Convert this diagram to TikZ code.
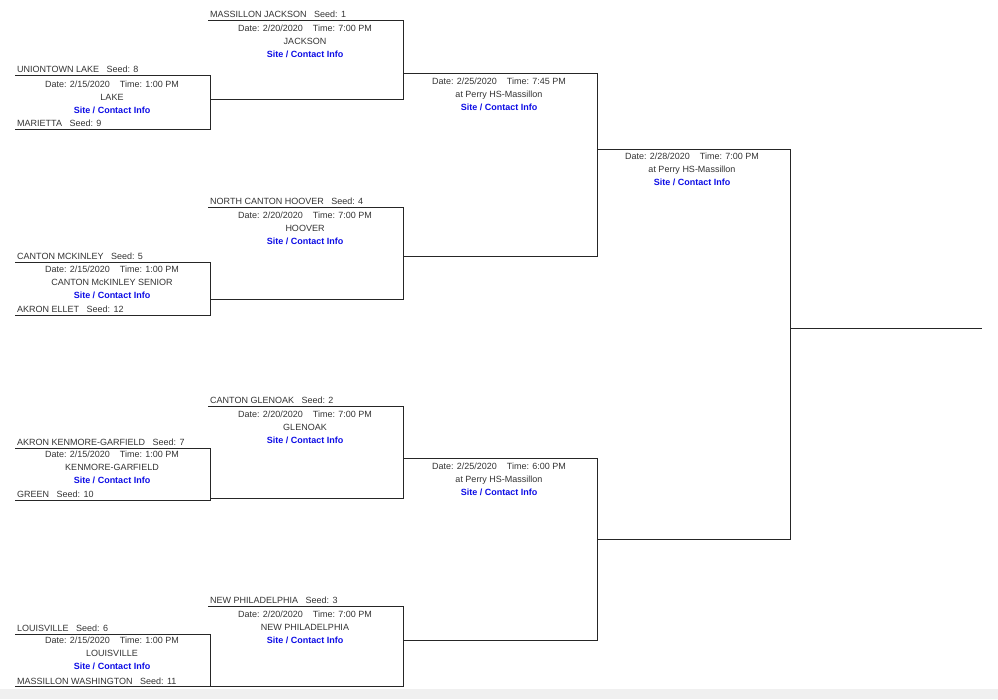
\documentclass[tikz,border=0pt]{standalone}
\usepackage{fontspec}
\setmainfont{Liberation Sans}
\definecolor{txtgray}{rgb}{0.2,0.2,0.2}
\definecolor{linkblue}{rgb}{0.05,0.05,0.9}
\definecolor{barg}{rgb}{0.94,0.94,0.94}
\tikzset{
  team/.style={anchor=base west,inner sep=0pt,text=txtgray,font=\fontsize{9}{10}\selectfont},
  info/.style={anchor=base,inner sep=0pt,text=txtgray,font=\fontsize{9}{10}\selectfont},
  site/.style={anchor=base,inner sep=0pt,text=linkblue,font=\fontsize{9}{10}\selectfont\bfseries},
  bline/.style={draw=black!85,line width=0.8pt}
}
\begin{document}
\begin{tikzpicture}[line cap=butt,line join=miter,x=1pt,y=-1pt]
\useasboundingbox (0,0) rectangle (998,699);
\fill[barg] (0,689) rectangle (998,699);
% round one
\draw[bline] (15,75)-- (210,75)-- (210,129)-- (15,129);
\draw[bline] (15,262)-- (210,262)-- (210,315)-- (15,315);
\draw[bline] (15,448)-- (210,448)-- (210,500)-- (15,500);
\draw[bline] (15,634)-- (210,634)-- (210,686)-- (15,686);
% round two
\draw[bline] (208,20)-- (403,20)-- (403,99)-- (210,99);
\draw[bline] (208,207)-- (403,207)-- (403,299)-- (210,299);
\draw[bline] (208,406)-- (403,406)-- (403,498)-- (210,498);
\draw[bline] (208,606)-- (403,606)-- (403,686)-- (210,686);
% semifinals
\draw[bline] (403,73)-- (597,73)-- (597,256)-- (403,256);
\draw[bline] (403,458)-- (597,458)-- (597,640)-- (403,640);
% final
\draw[bline] (597,149)-- (790,149)-- (790,539)-- (597,539);
\draw[bline] (790,328)-- (982,328);
% teams
\node[team] (t8) at (17,72) {UNIONTOWN LAKE\ \ \ Seed: 8};
\node[team] (t9) at (17,126) {MARIETTA\ \ \ Seed: 9};
\node[team] (t5) at (17,259) {CANTON MCKINLEY\ \ \ Seed: 5};
\node[team] (t12) at (17,312) {AKRON ELLET\ \ \ Seed: 12};
\node[team] (t7) at (17,445) {AKRON KENMORE-GARFIELD\ \ \ Seed: 7};
\node[team] (t10) at (17,497) {GREEN\ \ \ Seed: 10};
\node[team] (t6) at (17,631) {LOUISVILLE\ \ \ Seed: 6};
\node[team] (t11) at (17,684) {MASSILLON WASHINGTON\ \ \ Seed: 11};
\node[team] (t1) at (210,17) {MASSILLON JACKSON\ \ \ Seed: 1};
\node[team] (t4) at (210,204) {NORTH CANTON HOOVER\ \ \ Seed: 4};
\node[team] (t2) at (210,403) {CANTON GLENOAK\ \ \ Seed: 2};
\node[team] (t3) at (210,603) {NEW PHILADELPHIA\ \ \ Seed: 3};
% game info
\foreach \n/\x/\y/\d/\w in {
  ga/112/87/2\slash 15\slash 2020\ \ \ \ Time: 1:00 PM/LAKE,
  gb/112/272/2\slash 15\slash 2020\ \ \ \ Time: 1:00 PM/CANTON McKINLEY SENIOR,
  gc/112/457/2\slash 15\slash 2020\ \ \ \ Time: 1:00 PM/KENMORE-GARFIELD,
  gd/112/643/2\slash 15\slash 2020\ \ \ \ Time: 1:00 PM/LOUISVILLE,
  qa/305/31/2\slash 20\slash 2020\ \ \ \ Time: 7:00 PM/JACKSON,
  qb/305/218/2\slash 20\slash 2020\ \ \ \ Time: 7:00 PM/HOOVER,
  qc/305/417/2\slash 20\slash 2020\ \ \ \ Time: 7:00 PM/GLENOAK,
  qd/305/617/2\slash 20\slash 2020\ \ \ \ Time: 7:00 PM/NEW PHILADELPHIA,
  sa/499/84/2\slash 25\slash 2020\ \ \ \ Time: 7:45 PM/at Perry HS-Massillon,
  sb/499/469/2\slash 25\slash 2020\ \ \ \ Time: 6:00 PM/at Perry HS-Massillon,
  fa/692/159/2\slash 28\slash 2020\ \ \ \ Time: 7:00 PM/at Perry HS-Massillon}
{
  \node[info] (\n date) at (\x,\y) {Date: \d};
  \node[info] (\n win) at (\x,\y+13) {\w};
  \node[site] (\n site) at (\x,\y+26) {Site / Contact Info};
}
\end{tikzpicture}
\end{document}
